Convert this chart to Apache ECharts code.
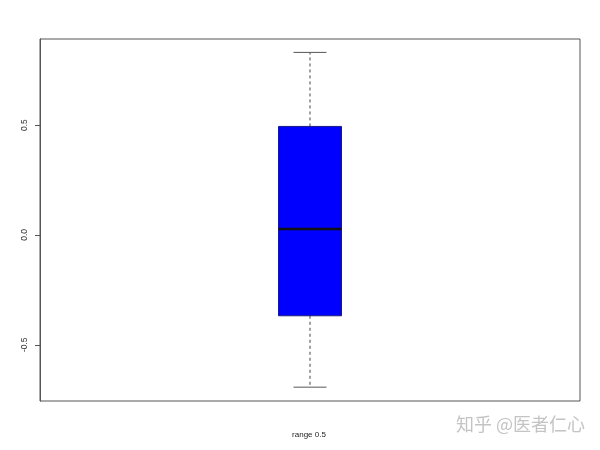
<!DOCTYPE html>
<html>
<head>
<meta charset="utf-8">
<script src="https://cdn.jsdelivr.net/npm/echarts@6/dist/echarts.min.js"></script>
<style>html,body{margin:0;padding:0;background:#fff}#c{width:600px;height:450px}</style>
</head>
<body>
<div id="c"></div>
<script>
// Data
const groupNames = ['range 0.5'];
const groupPositions = [1];
const whiskerLow = [-0.693];
const quartile1 = [-0.368];
const medians = [0.027];
const quartile3 = [0.494];
const whiskerHigh = [0.831];
const yTicks = [-0.5, 0, 0.5];

const chart = echarts.init(document.getElementById('c'), null, {renderer: 'canvas'});

const data = groupPositions.map((p, i) => [p, whiskerLow[i], quartile1[i], medians[i], quartile3[i], whiskerHigh[i]]);

const BOX_W = 63, CAP_W = 33;

chart.setOption({
  animation: false,
  backgroundColor: '#fff',
  grid: {left: 40, right: 20, top: 39, bottom: 49, show: true, borderColor: '#555', borderWidth: 1, backgroundColor: 'transparent'},
  xAxis: {
    type: 'value', min: 0.46, max: 1.54,
    axisLine: {show: false}, axisTick: {show: false}, axisLabel: {show: false}, splitLine: {show: false}
  },
  yAxis: {
    type: 'value', min: -0.756, max: 0.892,
    axisLine: {show: true, lineStyle: {color: '#555'}},
    axisTick: {show: true, length: 5, customValues: yTicks, lineStyle: {color: '#555'}},
    axisLabel: {
      customValues: yTicks, rotate: 90, margin: 11,
      fontFamily: 'Liberation Sans, Arial, sans-serif', fontSize: 8.5, color: '#333',
      formatter: v => Number(v).toFixed(1)
    },
    splitLine: {show: false}
  },
  graphic: [
    {type: 'text', x: 309, y: 435, style: {text: groupNames[0], font: '8px "Liberation Sans", Arial, sans-serif', fill: '#222', textAlign: 'center', textVerticalAlign: 'middle'}},
    {type: 'text', x: 585, y: 424, style: {text: '知乎 @医者仁心', font: '18px "Noto Sans CJK SC", sans-serif', fill: '#c4c4c4', textAlign: 'right', textVerticalAlign: 'middle'}}
  ],
  series: [{
    type: 'custom',
    data: data,
    renderItem: function (params, api) {
      const x = api.value(0);
      const pMin = api.coord([x, api.value(1)]);
      const pQ1 = api.coord([x, api.value(2)]);
      const pMed = api.coord([x, api.value(3)]);
      const pQ3 = api.coord([x, api.value(4)]);
      const pMax = api.coord([x, api.value(5)]);
      const cx = pMed[0];
      const dashStyle = {stroke: '#444', lineWidth: 1, lineDash: [3, 3]};
      const capStyle = {stroke: '#555', lineWidth: 1};
      return {
        type: 'group',
        children: [
          {type: 'line', shape: {x1: cx, y1: pQ3[1], x2: cx, y2: pMax[1]}, style: dashStyle},
          {type: 'line', shape: {x1: cx, y1: pQ1[1], x2: cx, y2: pMin[1]}, style: dashStyle},
          {type: 'line', shape: {x1: cx - CAP_W / 2, y1: pMax[1], x2: cx + CAP_W / 2, y2: pMax[1]}, style: capStyle},
          {type: 'line', shape: {x1: cx - CAP_W / 2, y1: pMin[1], x2: cx + CAP_W / 2, y2: pMin[1]}, style: capStyle},
          {type: 'rect', shape: {x: cx - BOX_W / 2, y: pQ3[1], width: BOX_W, height: pQ1[1] - pQ3[1]}, style: {fill: '#0000ff', stroke: '#1a1a80', lineWidth: 1}},
          {type: 'line', shape: {x1: cx - BOX_W / 2, y1: pMed[1], x2: cx + BOX_W / 2, y2: pMed[1]}, style: {stroke: '#111', lineWidth: 2.5}}
        ]
      };
    }
  }]
});
</script>
</body>
</html>
